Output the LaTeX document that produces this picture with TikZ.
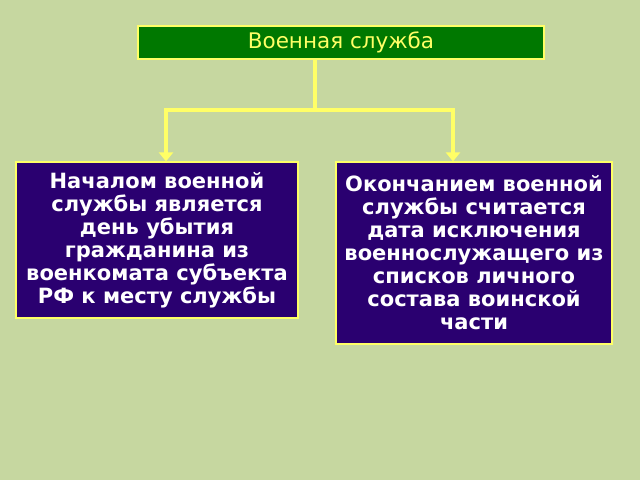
\documentclass[tikz,border=0pt]{standalone}
\usepackage{fontspec}
\setmainfont{DejaVu Sans}
\usetikzlibrary{arrows.meta}
\definecolor{bg}{HTML}{C6D7A0}
\definecolor{ttl}{HTML}{007800}
\definecolor{pur}{HTML}{2A0070}
\definecolor{yel}{HTML}{FFFF66}
\begin{document}
\begin{tikzpicture}[x=1pt,y=-1pt,
  bx/.style={draw=yel,line width=1.2pt,fill=pur,text=white,font=\bfseries\fontsize{21}{23}\selectfont,align=center,inner sep=0pt},
  conn/.style={draw=yel,line width=4.5pt},
  arr/.style={conn,-{Triangle[width=14pt,length=9pt]}}]
\fill[bg] (0,0) rectangle (640,480);
\useasboundingbox (0,0) rectangle (640,480);
\node[draw=yel,line width=2pt,fill=ttl,text=yel,font=\fontsize{21.5}{22}\selectfont,minimum width=406pt,minimum height=33pt,inner sep=0pt] (t) at (341,42.5) {Военная служба};
\node[bx,minimum width=282pt,minimum height=156pt] (l) at (157,240) {Началом военной\\службы является\\день убытия\\гражданина из\\военкомата субъекта\\РФ к месту службы};
\node[bx,minimum width=276pt,minimum height=182pt] (r) at (474,253) {Окончанием военной\\службы считается\\дата исключения\\военнослужащего из\\списков личного\\состава воинской\\части};
\coordinate (j) at (315,110);
\coordinate (jl) at (166,110);
\coordinate (jr) at (453,110);
\draw[conn] (t.south -| j) -- (j);
\draw[conn] ([xshift=-2.25pt]jl) -- ([xshift=2.25pt]jr);
\draw[arr] (jl) -- (jl |- l.north);
\draw[arr] (jr) -- (jr |- r.north);
\end{tikzpicture}
\end{document}
